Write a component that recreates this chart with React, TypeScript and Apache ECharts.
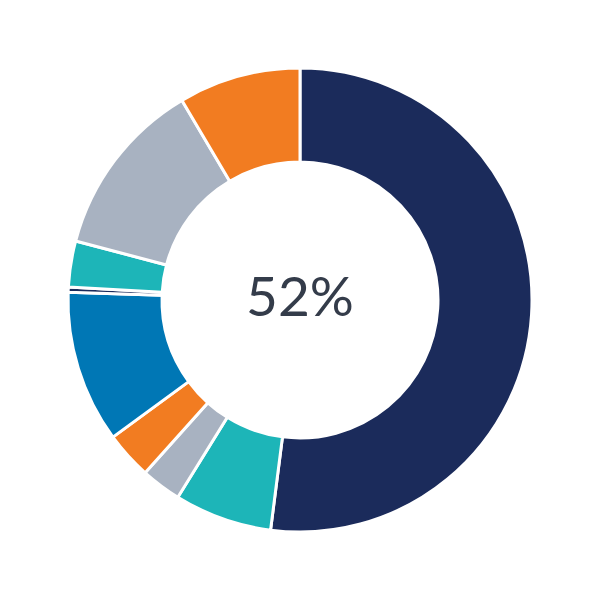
import React, { useEffect, useRef } from "react";
import * as echarts from "echarts";

const categories = ["A", "B", "C", "D", "E", "F", "G", "H", "I"];
const values = [52, 6.8, 2.8, 3.3, 10.6, 0.35, 3.2, 12.4, 8.5];
const colors = ["#1b2b5b", "#1db5b8", "#a8b2c1", "#f27c21", "#0077b5", "#1b2b5b", "#1db5b8", "#a8b2c1", "#f27c21"];
const centerLabel = "52%";

export default function App() {
  const ref = useRef<HTMLDivElement>(null);
  useEffect(() => {
    if (!ref.current) return;
    const chart = echarts.init(ref.current, undefined, { renderer: "svg" });
    chart.setOption({
      animation: false,
      backgroundColor: "#ffffff",
      graphic: [
        {
          type: "text",
          left: "center",
          top: 267,
          style: {
            text: centerLabel,
            fontSize: 55,
            fontFamily: "Lato",
            fill: "#343c4a",
          },
        },
      ],
      series: [
        {
          type: "pie",
          center: [300, 300],
          radius: [138, 232],
          startAngle: 90,
          clockwise: true,
          label: { show: false },
          labelLine: { show: false },
          emphasis: { disabled: true },
          itemStyle: { borderColor: "#ffffff", borderWidth: 3 },
          data: categories.map((c, i) => ({
            name: c,
            value: values[i],
            itemStyle: { color: colors[i] },
          })),
        },
      ],
    });
    return () => chart.dispose();
  }, []);
  return (
    <div
      ref={ref}
      style={{ position: "fixed", left: 0, top: 0, width: 600, height: 600 }}
    />
  );
}
